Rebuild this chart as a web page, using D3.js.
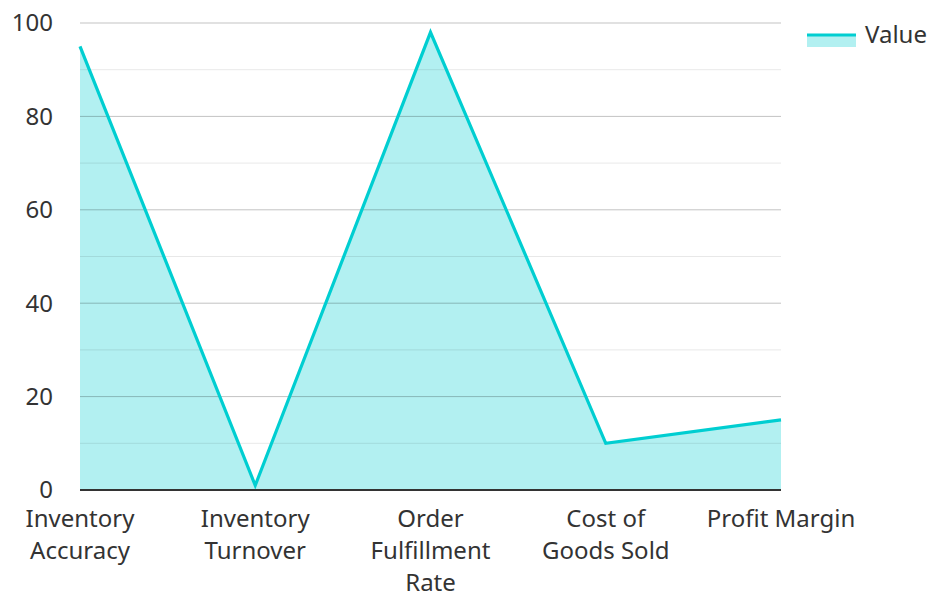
<!DOCTYPE html>
<html>
<head>
<meta charset="utf-8">
<script src="https://cdn.jsdelivr.net/npm/d3@7"></script>
<style>
  body { margin: 0; background: #fff; }
  text { font-family: "Noto Sans", "Open Sans", sans-serif; fill: #333; }
</style>
</head>
<body>
<svg id="chart" width="930" height="594"></svg>
<script>
// data
const categories = [
  ["Inventory", "Accuracy"],
  ["Inventory", "Turnover"],
  ["Order", "Fulfillment", "Rate"],
  ["Cost of", "Goods Sold"],
  ["Profit Margin"]
];
const values = [95, 1, 98, 10, 15];
const majorTicks = [0, 20, 40, 60, 80, 100];
const minorTicks = [10, 30, 50, 70, 90];
const seriesName = "Value";

const svg = d3.select("#chart");
const margin = { top: 23, right: 149, bottom: 104, left: 80 };
const width = +svg.attr("width") - margin.left - margin.right;
const height = +svg.attr("height") - margin.top - margin.bottom;

const g = svg.append("g")
  .attr("transform", `translate(${margin.left},${margin.top})`);

const x = d3.scalePoint()
  .domain(categories.map((d, i) => i))
  .range([0, width]);
const y = d3.scaleLinear().domain([0, 100]).range([height, 0]);

const lineColor = "#00CED1";

// area fill
const area = d3.area()
  .x((d, i) => x(i))
  .y0(y(0))
  .y1(d => y(d));
g.append("path")
  .datum(values)
  .attr("d", area)
  .attr("fill", lineColor)
  .attr("fill-opacity", 0.3);

// gridlines
g.selectAll("line.minor")
  .data(minorTicks)
  .join("line")
  .attr("class", "minor")
  .attr("x1", 0).attr("x2", width)
  .attr("y1", d => y(d)).attr("y2", d => y(d))
  .attr("stroke", "#000")
  .attr("stroke-opacity", 0.09)
  .attr("stroke-width", 1);

g.selectAll("line.major")
  .data(majorTicks.filter(d => d > 0))
  .join("line")
  .attr("class", "major")
  .attr("x1", 0).attr("x2", width)
  .attr("y1", d => y(d)).attr("y2", d => y(d))
  .attr("stroke", "#000")
  .attr("stroke-opacity", 0.24)
  .attr("stroke-width", 1);

// line
const line = d3.line()
  .x((d, i) => x(i))
  .y(d => y(d));
g.append("path")
  .datum(values)
  .attr("d", line)
  .attr("fill", "none")
  .attr("stroke", lineColor)
  .attr("stroke-width", 3.2)
  .attr("stroke-linejoin", "miter");

// baseline
g.append("line")
  .attr("x1", 0).attr("x2", width)
  .attr("y1", y(0)).attr("y2", y(0))
  .attr("stroke", "#333")
  .attr("stroke-width", 2);

// y labels
g.selectAll("text.ytick")
  .data(majorTicks)
  .join("text")
  .attr("class", "ytick")
  .attr("x", -27)
  .attr("y", d => y(d))
  .attr("dy", "0.35em")
  .attr("text-anchor", "end")
  .attr("font-size", 24)
  .text(d => d);

// x labels
const xl = g.selectAll("text.xtick")
  .data(categories)
  .join("text")
  .attr("class", "xtick")
  .attr("text-anchor", "middle")
  .attr("font-size", 24)
  .attr("transform", (d, i) => `translate(${x(i)},${height + 37})`);
xl.selectAll("tspan")
  .data(d => d)
  .join("tspan")
  .attr("x", 0)
  .attr("dy", (d, i) => i === 0 ? 0 : 32)
  .text(d => d);

// legend
const leg = svg.append("g").attr("transform", "translate(807,35)");
leg.append("rect")
  .attr("x", 0).attr("y", 0)
  .attr("width", 49).attr("height", 12)
  .attr("fill", lineColor)
  .attr("fill-opacity", 0.3);
leg.append("line")
  .attr("x1", 0).attr("x2", 49)
  .attr("y1", 0).attr("y2", 0)
  .attr("stroke", lineColor)
  .attr("stroke-width", 3);
leg.append("text")
  .attr("x", 58)
  .attr("y", 8)
  .attr("font-size", 24)
  .text(seriesName);
</script>
</body>
</html>
